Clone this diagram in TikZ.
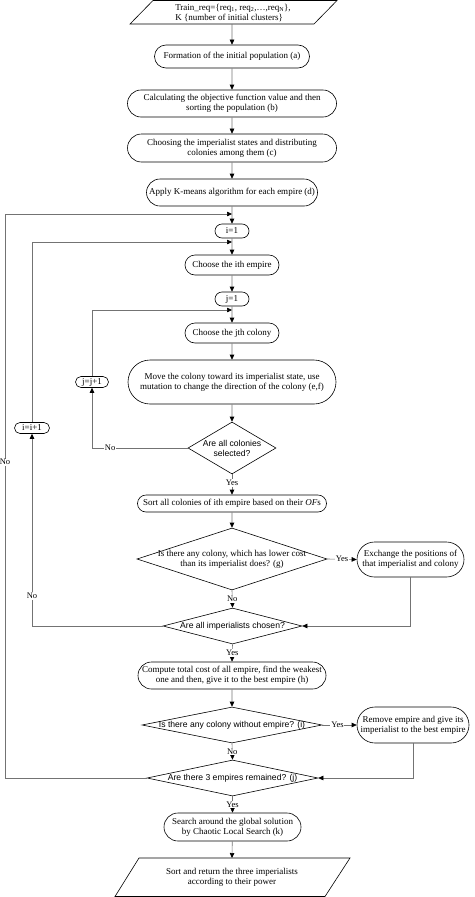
\documentclass[tikz,border=0pt]{standalone}
\usepackage{fontspec}
\setmainfont{Liberation Serif}
\newfontfamily\sansf{Liberation Sans}
\usetikzlibrary{shapes.geometric,shapes.misc,arrows.meta}
\begin{document}
\begin{tikzpicture}[x=1pt,y=-1pt,
  proc/.style={rounded rectangle, draw=black, line width=0.6pt, inner sep=1pt, align=center, font=\fontsize{9}{10}\selectfont},
  dec/.style={diamond, draw=black, line width=0.6pt, inner sep=0pt},
  dtext/.style={align=center, inner sep=0pt, font=\sansf\fontsize{8.6}{10}\selectfont},
  stext/.style={align=center, inner sep=0pt, font=\fontsize{9}{10}\selectfont},
  lbl/.style={fill=white, inner sep=0.8pt, font=\fontsize{8.5}{9}\selectfont},
  conn/.style={draw=black!55, line width=0.6pt},
  arr/.style={conn, -{Triangle[length=5pt,width=4.5pt,black]}}
]
\useasboundingbox (0,0) rectangle (474,897);
% input parallelogram
\coordinate (p1) at (153,0.5); \coordinate (p2) at (337,0.5);
\coordinate (p3) at (314,24); \coordinate (p4) at (130,24);
\draw[black, line width=0.6pt] (p1) -- (p2) -- (p3) -- (p4) -- cycle;
\node[stext, align=left] (in) at (233,13) {Train\_req=\{req\textsubscript{1}, req\textsubscript{2},\dots,req\textsubscript{N}\},\\K \{number of initial clusters\}};
\coordinate (inB) at (232,24);

\node[proc, minimum width=157pt, minimum height=23pt] (a) at (232,56.5) {Formation of the initial population (a)};
\node[proc, minimum width=211pt, minimum height=27pt] (b) at (232,103.5) {Calculating the objective function value and then\\sorting the population (b)};
\node[proc, minimum width=211pt, minimum height=28pt] (c) at (232,148) {Choosing the imperialist states and distributing\\colonies among them (c)};
\node[proc, minimum width=173pt, minimum height=27pt] (d) at (232,192.5) {Apply K-means algorithm for each empire (d)};
\node[proc, minimum width=36pt, minimum height=14pt] (i1) at (232,231) {i=1};
\node[proc, minimum width=96pt, minimum height=20pt] (ith) at (232,265) {Choose the ith empire};
\node[proc, minimum width=36pt, minimum height=14pt] (j1) at (232,299) {j=1};
\node[proc, minimum width=96pt, minimum height=20pt] (jth) at (232,333) {Choose the jth colony};
\node[proc, minimum width=210pt, minimum height=44pt] (mv) at (232,382) {Move the colony toward its imperialist state, use\\mutation to change the direction of the colony (e,f)};
\node[dec, minimum width=88pt, minimum height=52pt] (dA) at (232,448) {};
\node[dtext] (dAt) at (dA) {Are all colonies\\selected?};
\node[proc, minimum width=191pt, minimum height=17pt] (sort) at (232,503.5) {Sort all colonies of ith empire based on their \textit{OF}s};
\node[dec, minimum width=190pt, minimum height=62pt] (dg) at (232,559) {};
\node[stext] (dgt) at (dg) {Is there any colony, which has lower cost\\than its imperialist does? (g)};
\node[proc, minimum width=109pt, minimum height=35pt] (ex) at (410.5,559.5) {Exchange the positions of\\that imperialist and colony};
\node[dec, minimum width=139pt, minimum height=36pt] (dI) at (232.5,626) {};
\node[dtext] (dIt) at (dI) {Are all imperialists chosen?};
\node[proc, minimum width=36pt, minimum height=11pt, inner sep=0.5pt] (ii) at (32,428) {i=i+1};
\node[proc, minimum width=34pt, minimum height=11pt, inner sep=0.5pt] (jj) at (92,382) {j=j+1};
\node[proc, minimum width=190pt, minimum height=27pt] (cp) at (232,675.5) {Compute total cost of all empire, find the weakest\\one and then, give it to the best empire (h)};
\node[dec, minimum width=180pt, minimum height=36pt] (di) at (232,725) {};
\node[dtext] (dit) at (di) {Is there any colony without empire? (i)};
\node[proc, minimum width=114pt, minimum height=36pt] (rm) at (413,725) {Remove empire and give its\\imperialist to the best empire};
\node[dec, minimum width=171pt, minimum height=36pt] (dj) at (232.5,778) {};
\node[dtext] (djt) at (dj) {Are there 3 empires remained? (j)};
\node[proc, minimum width=139pt, minimum height=28pt] (sr) at (232.5,827) {Search around the global solution\\by Chaotic Local Search (k)};
% output parallelogram
\coordinate (q1) at (139,858); \coordinate (q2) at (350,858);
\coordinate (q3) at (325,896.5); \coordinate (q4) at (115,896.5);
\draw[black, line width=0.6pt] (q1) -- (q2) -- (q3) -- (q4) -- cycle;
\node[stext] (out) at (232,877) {Sort and return the three imperialists\\according to their power};
\coordinate (outT) at (232,858);

% loop entry points
\coordinate (iin) at (232,214);
\coordinate (iin2) at (232,242);
\coordinate (jin) at (232,310);
\coordinate (oL) at (5,778);

% main connectors
\draw[arr] (inB) -- (a);
\draw[arr] (a) -- (b);
\draw[arr] (b) -- (c);
\draw[arr] (c) -- (d);
\draw[arr] (d) -- (i1);
\draw[arr] (i1) -- (ith);
\draw[arr] (ith) -- (j1);
\draw[arr] (j1) -- (jth);
\draw[arr] (jth) -- (mv);
\draw[arr] (mv) -- (dA);
\draw[arr] (dA.south) -- node[lbl, pos=0.43]{Yes} (sort.north);
\draw[arr] (sort) -- (dg);
\draw[arr] (dg.east) -- node[lbl]{Yes} (ex.west);
\draw[arr] (dg.south) -- node[lbl]{No} (dI.north);
\draw[arr] (ex.south) |- (dI.east);
\draw[arr] (dI.south) -- node[lbl]{Yes} (cp.north);
\draw[arr] (cp) -- (di);
\draw[arr] (di.east) -- node[lbl, pos=0.44]{Yes} (rm.west);
\draw[arr] (di.south) -- node[lbl]{No} (dj.north);
\draw[arr] (rm.south) |- (dj.east);
\draw[arr] (dj.south) -- node[lbl]{Yes} (sr.north);
\draw[arr] (sr) -- (outT);

% loops
\draw[arr] (dA.west) -| node[lbl, pos=0.405]{No} (jj.south);
\draw[arr] (jj.north) |- (jin);
\draw[arr] (dI.west) -| node[lbl, pos=0.578]{No} (ii.south);
\draw[arr] (ii.north) |- (iin2);
\draw[conn] (dj.west) -- (oL);
\draw[arr] (oL) |- node[lbl, pos=0.28]{No} (iin);
\end{tikzpicture}
\end{document}
